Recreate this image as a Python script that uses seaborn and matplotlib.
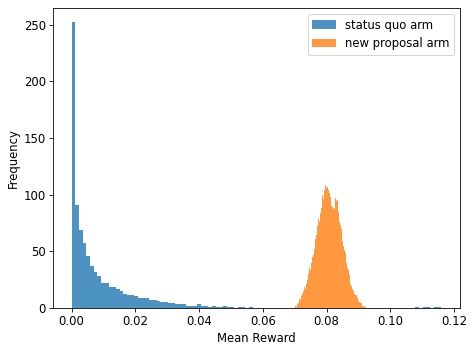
import numpy as np
import pandas as pd
import matplotlib
matplotlib.use("Agg")
from matplotlib import pyplot as plt
import seaborn as sns

# status quo arm: 100 bins over [0, 0.116]
sq_lo, sq_hi = 0.0, 0.116
status_quo_counts = [
    252, 91, 69, 57, 46, 37, 32, 28, 22, 22,
    18, 18, 17, 15, 12, 11, 11, 10, 9, 9,
    9, 7, 7, 6, 5, 5, 4, 4, 3, 3,
    3, 2, 2, 2, 3, 2, 2, 1, 2, 1,
    1, 2, 1, 1, 0, 1, 1, 0, 1, 0,
    0, 0, 0, 0, 0, 0, 0, 0, 0, 0,
    0, 0, 0, 0, 0, 0, 0, 0, 0, 0,
    0, 0, 0, 0, 0, 0, 0, 0, 0, 0,
    0, 0, 0, 0, 0, 0, 0, 0, 0, 0,
    0, 0, 0, 1, 0, 1, 1, 0, 1, 1,
]

# new proposal arm: 90 bins over [0.0700, 0.0925]
np_lo, np_hi = 0.0700, 0.0925
new_proposal_counts = [
    1, 2, 1, 3, 4, 6, 8, 7, 10, 12,
    13, 15, 18, 17, 21, 24, 25, 30, 35, 33,
    36, 40, 45, 47, 52, 55, 61, 64, 72, 78,
    74, 76, 84, 88, 100, 113, 96, 104, 108, 106,
    103, 107, 104, 101, 98, 95, 90, 89, 87, 88,
    92, 97, 94, 95, 85, 80, 76, 73, 70, 63,
    59, 55, 51, 48, 45, 40, 35, 33, 29, 26,
    21, 19, 17, 15, 13, 12, 11, 11, 9, 8,
    6, 5, 4, 4, 3, 2, 2, 1, 1, 0,
]

plt.rcParams["font.size"] = 11.3

sq_edges = np.linspace(sq_lo, sq_hi, len(status_quo_counts) + 1)
np_edges = np.linspace(np_lo, np_hi, len(new_proposal_counts) + 1)
sq_df = pd.DataFrame({"x": (sq_edges[:-1] + sq_edges[1:]) / 2, "w": status_quo_counts})
np_df = pd.DataFrame({"x": (np_edges[:-1] + np_edges[1:]) / 2, "w": new_proposal_counts})

fig, ax = plt.subplots(figsize=(474 / 74, 351 / 74), dpi=74)
fig.subplots_adjust(left=0.112, right=0.970, top=0.977, bottom=0.123)

sns.histplot(data=sq_df, x="x", weights="w", bins=len(status_quo_counts),
             binrange=(sq_lo, sq_hi), ax=ax,
             color="tab:blue", alpha=0.8, linewidth=0, label="status quo arm")
sns.histplot(data=np_df, x="x", weights="w", bins=len(new_proposal_counts),
             binrange=(np_lo, np_hi), ax=ax,
             color="tab:orange", alpha=0.8, linewidth=0, label="new proposal arm")

ax.set_xlim(-0.0058, 0.1218)
ax.set_ylim(0, 264.6)
ax.set_xlabel("Mean Reward")
ax.set_ylabel("Frequency")
ax.legend(loc="upper right")

plt.savefig("out.png", dpi=74)
